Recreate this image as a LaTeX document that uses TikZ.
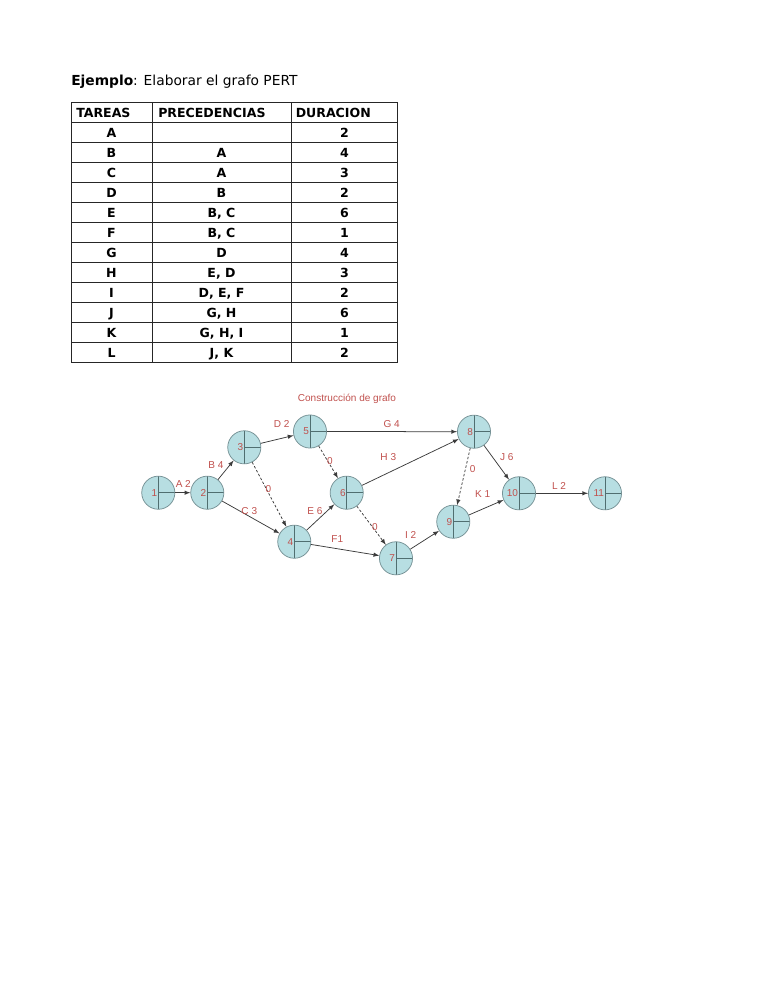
\documentclass[tikz,border=0pt]{standalone}
\usepackage{fontspec}
\setmainfont{DejaVu Sans}
\newfontfamily\grafofont{Liberation Sans}
\definecolor{rojo}{RGB}{192,80,77}
\definecolor{celeste}{RGB}{183,222,226}
\definecolor{borde}{RGB}{118,146,150}
\definecolor{interior}{RGB}{80,110,112}
\definecolor{trazo}{RGB}{60,60,60}
\newcommand{\ev}[1]{\llap{#1\kern0.8pt}}
\tikzset{
  rejilla/.style={line width=0.5pt, black!85},
  evento/.style={circle, draw=borde, fill=celeste, line width=0.6pt, minimum size=26.4pt, inner sep=0pt,
    text=rojo, font=\grafofont\fontsize{8}{9}\selectfont,
    path picture={\draw[interior, line width=0.6pt] (path picture bounding box.north) -- (path picture bounding box.south)
      (path picture bounding box.center) -- (path picture bounding box.east);}},
  flecha/.style={->, trazo, line width=0.6pt},
  ficticia/.style={flecha, dash pattern=on 2pt off 1.5pt},
  etiqueta/.style={text=rojo, inner sep=0pt, font=\grafofont\fontsize{8}{9}\selectfont}
}
\begin{document}
\begin{tikzpicture}[>=latex, x=0.797pt, y=-0.797pt, font=\fontsize{11}{13}\selectfont]
\useasboundingbox (0,0) rectangle (768,994);
\node[anchor=base west, inner sep=0pt] (titulo) at (71,85) {\textbf{Ejemplo}: Elaborar el grafo PERT};

% tabla
\foreach \y in {0,...,13}
{
    \draw[rejilla] (71,102.5+20*\y)--(397.5,102.5+20*\y);
}
\foreach \x in {71,152.5,291,397.5}
{
    \draw[rejilla] (\x,102.5)--(\x,362.5);
}
\node[anchor=base west, inner sep=0pt, font=\bfseries] (hT) at (76,117.5) {TAREAS};
\node[anchor=base west, inner sep=0pt, font=\bfseries] (hP) at (158,117.5) {PRECEDENCIAS};
\node[anchor=base west, inner sep=0pt, font=\bfseries] (hD) at (295.5,117.5) {DURACION};
\foreach \t/\p/\d [count=\i] in {A//2, B/A/4, C/A/3, D/B/2, E/{B, C}/6, F/{B, C}/1, G/D/4,
    H/{E, D}/3, I/{D, E, F}/2, J/{G, H}/6, K/{G, H, I}/1, L/{J, K}/2}
{
    \node[anchor=base, inner sep=0pt, font=\bfseries] (t\i) at (111.5,117.5+20*\i) {\t};
    \node[anchor=base, inner sep=0pt, font=\bfseries] (p\i) at (221.5,117.5+20*\i) {\p};
    \node[anchor=base, inner sep=0pt, font=\bfseries] (d\i) at (344.5,117.5+20*\i) {\d};
}

% grafo
\node[etiqueta] (cons) at (347,399) {Construcción de grafo};
\node[evento] (n1) at (158.3,492.7) {\ev{1}};
\node[evento] (n2) at (207.3,492.7) {\ev{2}};
\node[evento] (n3) at (244.3,447.3) {\ev{3}};
\node[evento] (n4) at (294.3,541.7) {\ev{4}};
\node[evento] (n5) at (310,431.5) {\ev{5}};
\node[evento] (n6) at (346.7,492.7) {\ev{6}};
\node[evento] (n7) at (396,558.3) {\ev{7}};
\node[evento] (n8) at (474,431.7) {\ev{8}};
\node[evento] (n9) at (453.3,521.7) {\ev{9}};
\node[evento] (n10) at (519,493.3) {\ev{10}};
\node[evento] (n11) at (605,493.3) {\ev{11}};

\draw[flecha] (n1)--(n2);
\draw[flecha] (n2)--(n3);
\draw[flecha] (n2)--(n4);
\draw[flecha] (n3)--(n5);
\draw[ficticia] (n3)--(n4);
\draw[ficticia] (n5)--(n6);
\draw[flecha] (n5)--(n8);
\draw[flecha] (n6)--(n8);
\draw[flecha] (n4)--(n6);
\draw[flecha] (n4)--(n7);
\draw[ficticia] (n6)--(n7);
\draw[flecha] (n7)--(n9);
\draw[ficticia] (n8)--(n9);
\draw[flecha] (n8)--(n10);
\draw[flecha] (n9)--(n10);
\draw[flecha] (n10)--(n11);

\node[etiqueta] (lA) at (183.3,484.3) {A 2};
\node[etiqueta] (lB) at (216,465) {B 4};
\node[etiqueta] (lC) at (249.3,510.7) {C 3};
\node[etiqueta] (lD) at (281.7,424) {D 2};
\node[etiqueta] (lE) at (315,510.7) {E 6};
\node[etiqueta] (lF) at (337.3,539) {F1};
\node[etiqueta] (lG) at (391.7,424) {G 4};
\node[etiqueta] (lH) at (388.3,456.7) {H 3};
\node[etiqueta] (lI) at (410.7,535) {I 2};
\node[etiqueta] (lJ) at (506.7,456.7) {J 6};
\node[etiqueta] (lK) at (482.7,494) {K 1};
\node[etiqueta] (lL) at (559,486) {L 2};
\node[etiqueta] (f34) at (268.3,489.3) {0};
\node[etiqueta] (f56) at (330,461) {0};
\node[etiqueta] (f67) at (375,526.7) {0};
\node[etiqueta] (f89) at (472.7,469) {0};
\end{tikzpicture}
\end{document}
